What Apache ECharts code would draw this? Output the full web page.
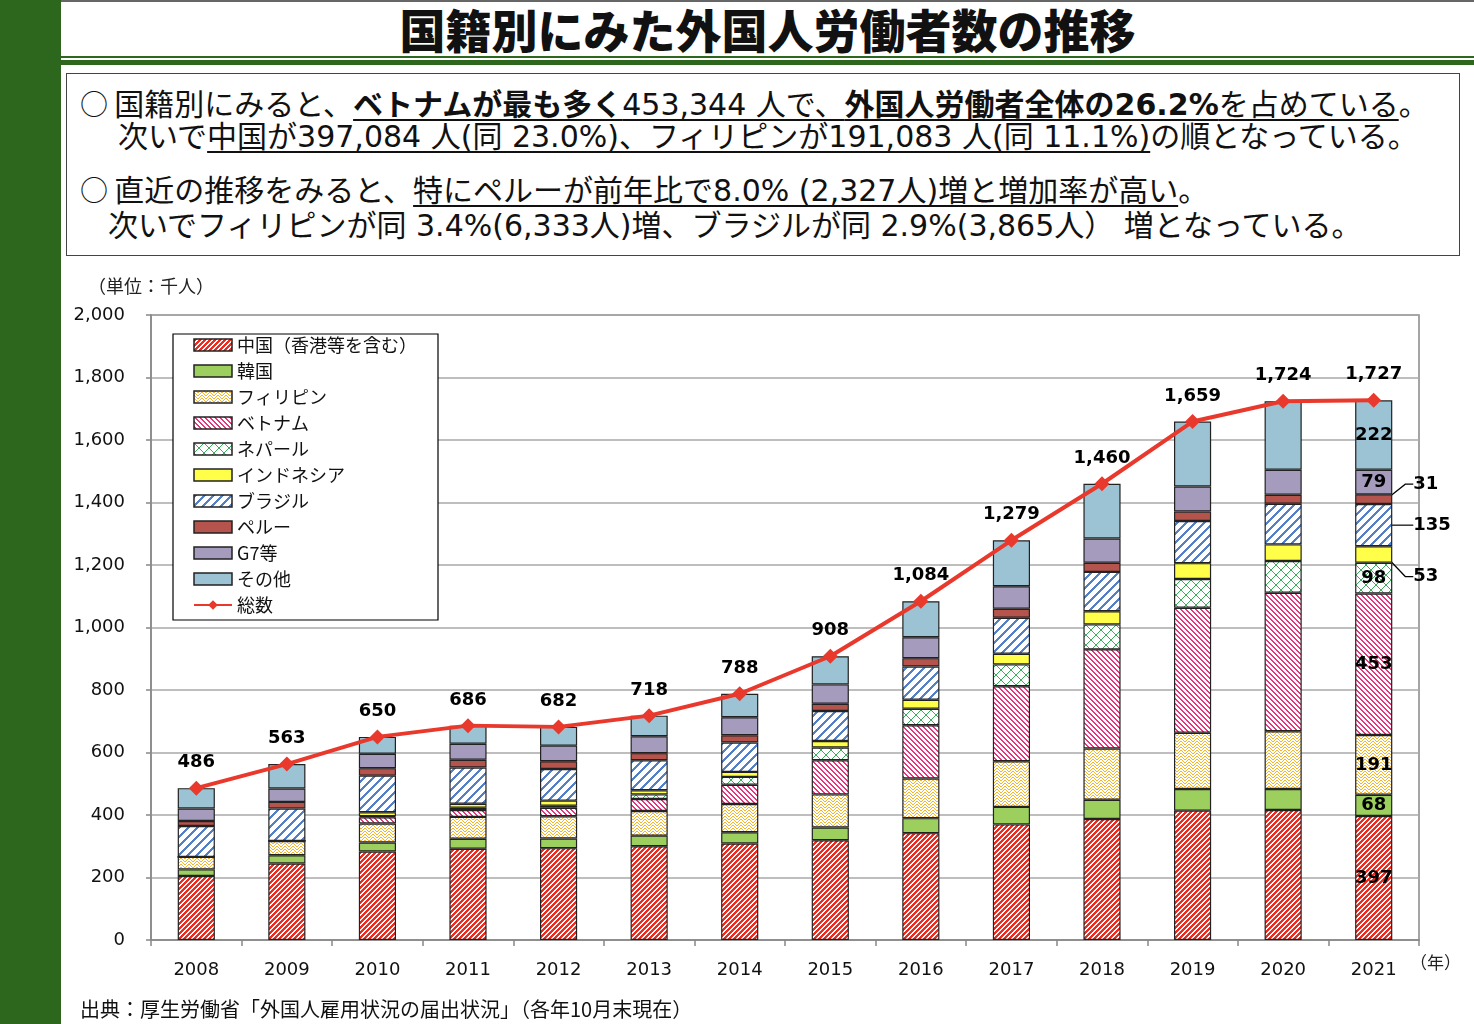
<!DOCTYPE html>
<html>
<head>
<meta charset="utf-8">
<script src="https://cdn.jsdelivr.net/npm/echarts@6/dist/echarts.min.js"></script>
<style>
  html, body { margin:0; padding:0; }
  body { width:1474px; height:1024px; position:relative; overflow:hidden; background:#fff; font-family:'Noto Sans CJK JP', sans-serif; color:#111; }
  .abs { position:absolute; }
  .ln { position:absolute; white-space:nowrap; font-size:30px; line-height:36px; height:36px; font-family:'DejaVu Sans','Noto Sans CJK JP',sans-serif; }
  .ln .c { font-family:'Noto Sans CJK JP'; font-size:28px; }
  .ln u { text-decoration:underline; text-decoration-thickness:2px; text-underline-offset:4px; }
  .ln b { font-weight:700; }
</style>
</head>
<body>
<div class="abs" style="left:0;top:0;width:61px;height:1024px;background:#2d661d;"></div>
<div class="abs" style="left:61px;top:0;width:1413px;height:2px;background:#666;"></div>
<div class="abs" style="left:61px;top:2px;width:1413px;height:54px;line-height:52px;text-align:center;font-size:46px;font-weight:900;color:#111;">国籍別にみた外国人労働者数の推移</div>
<div class="abs" style="left:61px;top:56px;width:1413px;height:2px;background:#2d661d;"></div>
<div class="abs" style="left:61px;top:60px;width:1413px;height:5px;background:#2d661d;"></div>
<div class="abs" style="left:66px;top:73px;width:1394px;height:183px;border:1.5px solid #444;box-sizing:border-box;"></div>

<div class="ln" style="left:80px;top:85px;"><span class="c">○ </span>国籍別にみると、<u><b>ベトナムが最も多く</b>453,344 人で、<b>外国人労働者全体の26.2%</b>を占めている</u>。</div>
<div class="ln" style="left:118px;top:119px;">次いで<u>中国が397,084 人(同 23.0%)、フィリピンが191,083 人(同 11.1%)</u>の順となっている。</div>
<div class="ln" style="left:80px;top:171px;"><span class="c">○ </span>直近の推移をみると、<u>特にペルーが前年比で8.0% (2,327人)増と増加率が高い</u>。</div>
<div class="ln" style="left:108px;top:208px;">次いでフィリピンが同 3.4%(6,333人)増、ブラジルが同 2.9%(3,865人） 増となっている。</div>

<div id="chart" class="abs" style="left:61px;top:260px;width:1413px;height:764px;"></div>
<div class="abs" style="left:80px;top:995px;font-size:20px;line-height:28px;color:#111;z-index:5;">出典：厚生労働省「外国人雇用状況の届出状況」（各年10月末現在）</div>

<script>
// ---- data (thousand persons) ----
const years = ['2008','2009','2010','2011','2012','2013','2014','2015','2016','2017','2018','2019','2020','2021'];
const seriesNames = ['中国（香港等を含む）','韓国','フィリピン','ベトナム','ネパール','インドネシア','ブラジル','ペルー','G7等','その他'];
const china       = [205,245,283,292,294,300,309,319,342,370,387,414,416,397];
const korea       = [21,26,29,32,31,34,36,41,48,56,62,69,67,68];
const philippines = [40,46,61,70,71,79,90,106,127,146,164,180,185,191];
const vietnam     = [0,0,20,22,27,38,62,109,170,240,317,400,443,453];
const nepal       = [0,0,3,7,7,15,25,41,53,70,80,92,102,98];
const indonesia   = [0,0,13,13,16,13,16,21,29,34,42,51,53,53];
const brazil      = [99,104,117,116,101,96,94,96,106,115,126,135,130,135];
const peru        = [16,21,24,25,25,23,23,23,27,29,29,30,29,31];
const g7          = [40,43,46,51,50,54,58,62,67,72,78,80,80,79];
const others      = [65,78,54,58,60,66,75,90,115,147,175,208,219,222];
const totals      = [486,563,650,686,682,718,788,908,1084,1279,1460,1659,1724,1727];
const yTicks = { min:0, max:2000, interval:200 };

// ---- patterns ----
function pat(w, h, fg, test) {
  const c = document.createElement('canvas');
  c.width = w; c.height = h;
  const g = c.getContext('2d');
  g.fillStyle = '#ffffff'; g.fillRect(0,0,w,h);
  g.fillStyle = fg;
  for (let y=0; y<h; y++) for (let x=0; x<w; x++) if (test(x,y)) g.fillRect(x,y,1,1);
  return { image: c, repeat: 'repeat' };
}
const zig = [0,1,2,3,3,2,1,0];
const fills = [
  pat(5,5,'#f02a1e',(x,y)=>((x+y)%5)<3),
  '#9dcf5f',
  pat(8,6,'#f3b32a',(x,y)=>(y===zig[x]+1) || (y===((zig[x]+4)%6))),
  pat(5,5,'#e8357c',(x,y)=>((x-y+10)%5)<2),
  pat(10,10,'#3aae5a',(x,y)=>(x===y)||(x===9-y)),
  '#ffff4a',
  pat(9,9,'#5580c6',(x,y)=>((x+y)%9)<3),
  '#b5534d',
  '#a59bbd',
  '#9cc3d4'
];
const dataArrays = [china,korea,philippines,vietnam,nepal,indonesia,brazil,peru,g7,others];

const numFont = 'DejaVu Sans';
const last = years.length - 1;
const outside = { 7: -15, 6: 0, 5: 22 }; // Peru, Brazil, Indonesia -> labels to the right

const barSeries = dataArrays.map((arr, si) => {
  const isOut = outside.hasOwnProperty(si);
  const lbl = isOut ? {
      show:true, position:'right', distance:21, formatter:'{c}',
      fontFamily:numFont, fontWeight:'bold', fontSize:18, color:'#000'
    } : {
      show:true, position:'inside', formatter:'{c}',
      fontFamily:numFont, fontWeight:'bold', fontSize:18, color:'#000'
    };
  const s = {
    name: seriesNames[si], type:'bar', stack:'total', barWidth:'41%',
    itemStyle:{ color: fills[si], borderColor:'#222', borderWidth:1.2 },
    data: arr.map((v,i)=> i===last ? { value:v, label: lbl } : v),
    label:{ show:false },
    z:2
  };
  if (isOut) {
    const dy = outside[si];
    s.labelLayout = function(){ return { dy: dy }; };
    s.labelLine = { show:true, length2:8, lineStyle:{ color:'#000', width:1.2 } };
  }
  return s;
});

const lineSeries = {
  name:'総数', type:'line', data: totals, z:5,
  symbol:'diamond', symbolSize:15,
  lineStyle:{ color:'#e8392c', width:4 },
  itemStyle:{ color:'#e8392c' },
  label:{ show:true, position:'top', distance:9, fontFamily:numFont, fontWeight:'bold', fontSize:18, color:'#000',
          formatter:p=>p.value.toLocaleString('en-US') }
};

const chart = echarts.init(document.getElementById('chart'));
chart.setOption({
  animation:false,
  textStyle:{ fontFamily:'Noto Sans CJK JP' },
  grid:{ left:90, right:55, top:55, bottom:84, show:true, borderColor:'#888', borderWidth:1.5, backgroundColor:'transparent' },
  legend:{
    orient:'vertical', left:112, top:74,
    padding:[2,21,6,20], itemGap:8, itemWidth:38, itemHeight:12,
    backgroundColor:'#fff', borderColor:'#000', borderWidth:1.2,
    textStyle:{ fontSize:18, color:'#111', fontFamily:'Noto Sans CJK JP' },
    itemStyle:{ borderColor:'#222', borderWidth:1.5 },
    data: seriesNames.map(n=>({ name:n, icon:'rect' })).concat([{ name:'総数', itemStyle:{ borderWidth:0 } }])
  },
  xAxis:{
    type:'category', data:years,
    axisLine:{ lineStyle:{ color:'#888', width:1.5 } },
    axisTick:{ show:true, length:6, lineStyle:{ color:'#888', width:1.5 } },
    axisLabel:{ fontFamily:numFont, fontSize:18, color:'#111', margin:21 }
  },
  yAxis:{
    type:'value', min:yTicks.min, max:yTicks.max, interval:yTicks.interval,
    axisLine:{ show:true, lineStyle:{ color:'#888', width:1.5 } },
    axisTick:{ show:true, length:5, lineStyle:{ color:'#888', width:1.5 } },
    splitLine:{ lineStyle:{ color:'#a8a8a8', width:1.5 } },
    axisLabel:{ fontFamily:numFont, fontSize:18, color:'#111', margin:26, formatter:v=>v.toLocaleString('en-US') }
  },
  graphic:[
    { type:'text', left:27, top:17, style:{ text:'（単位：千人）', fontSize:18, fill:'#222', fontFamily:'Noto Sans CJK JP' } },
    { type:'text', left:1349, top:694, style:{ text:'（年）', fontSize:17, fill:'#222', fontFamily:'Noto Sans CJK JP' } }
  ],
  series: barSeries.concat([lineSeries])
});
</script>
</body>
</html>
